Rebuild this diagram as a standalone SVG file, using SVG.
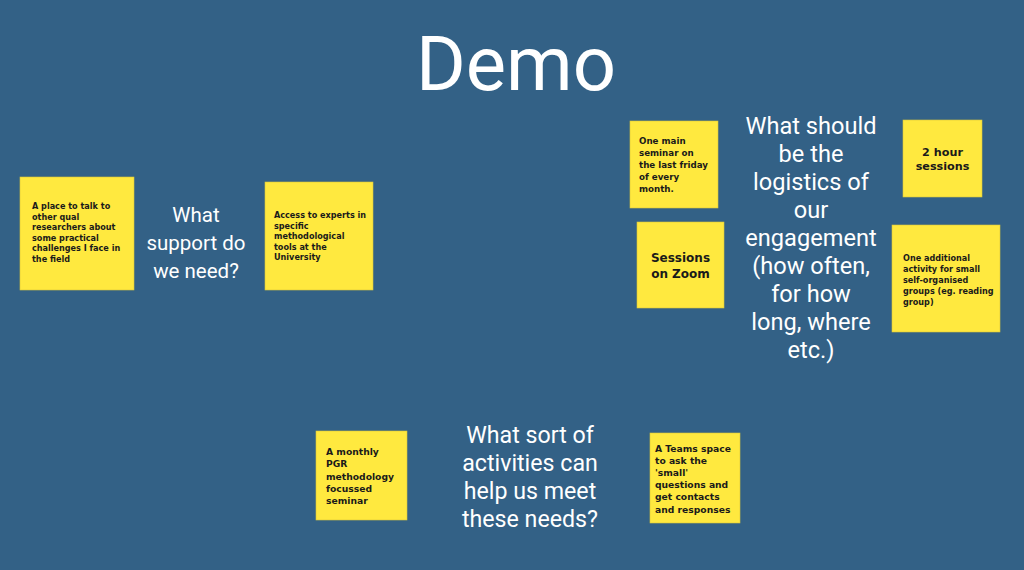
<svg xmlns="http://www.w3.org/2000/svg" width="1024" height="570" viewBox="0 0 1024 570">
<style>
.note{fill:#FFE93F;stroke:#d9c73a;stroke-width:0.6}
.nt{font-family:"DejaVu Sans",sans-serif;font-weight:bold;fill:#1a1a1a}
.s{font-size:8.1px}
.m{font-size:8.7px}
.m2{font-size:9.2px}
.l{font-size:11.5px}
.q{font-family:Roboto,"Liberation Sans",sans-serif;fill:#ffffff;text-anchor:middle}
</style>
<rect width="1024" height="570" fill="#336186"/>
<text x="516" y="90" font-family="Roboto,'Liberation Sans',sans-serif" font-size="76" fill="#ffffff" text-anchor="middle">Demo</text>
<g id="connectors"/>
<g id="q1"><text class="q" font-size="20.5"><tspan x="196" y="222">What</tspan><tspan x="196" y="250">support do</tspan><tspan x="196" y="278">we need?</tspan></text></g>
<g id="q2"><text class="q" font-size="23.6"><tspan x="811" y="134">What should</tspan><tspan x="811" y="162">be the</tspan><tspan x="811" y="190">logistics of</tspan><tspan x="811" y="218">our</tspan><tspan x="811" y="246">engagement</tspan><tspan x="811" y="274">(how often,</tspan><tspan x="811" y="302">for how</tspan><tspan x="811" y="330">long, where</tspan><tspan x="811" y="358">etc.)</tspan></text></g>
<g id="q3"><text class="q" font-size="23.2"><tspan x="530" y="443">What sort of</tspan><tspan x="530" y="471">activities can</tspan><tspan x="530" y="499">help us meet</tspan><tspan x="530" y="527">these needs?</tspan></text></g>
<g id="n1"><rect class="note" x="20" y="177" width="114" height="113"/><text class="nt s"><tspan x="32" y="209">A place to talk to</tspan><tspan x="32" y="219.5">other qual</tspan><tspan x="32" y="230">researchers about</tspan><tspan x="32" y="240.5">some practical</tspan><tspan x="32" y="251">challenges I face in</tspan><tspan x="32" y="261.5">the field</tspan></text></g>
<g id="n2"><rect class="note" x="265" y="182" width="108" height="108"/><text class="nt s"><tspan x="274" y="218">Access to experts in</tspan><tspan x="274" y="228.5">specific</tspan><tspan x="274" y="239">methodological</tspan><tspan x="274" y="249.5">tools at the</tspan><tspan x="274" y="260">University</tspan></text></g>
<g id="n3"><rect class="note" x="630" y="121" width="88" height="87"/><text class="nt m"><tspan x="639" y="144">One main</tspan><tspan x="639" y="156">seminar on</tspan><tspan x="639" y="168">the last friday</tspan><tspan x="639" y="180">of every</tspan><tspan x="639" y="192">month.</tspan></text></g>
<g id="n4"><rect class="note" x="637" y="222" width="87" height="86"/><text class="nt" font-size="12" text-anchor="middle"><tspan x="680.5" y="262">Sessions</tspan><tspan x="680.5" y="278">on Zoom</tspan></text></g>
<g id="n5"><rect class="note" x="903" y="120" width="79" height="77"/><text class="nt" font-size="11.2" text-anchor="middle"><tspan x="942.5" y="156">2 hour</tspan><tspan x="942.5" y="170">sessions</tspan></text></g>
<g id="n6"><rect class="note" x="892" y="225" width="108" height="107"/><text class="nt s"><tspan x="903" y="261">One additional</tspan><tspan x="903" y="272">activity for small</tspan><tspan x="903" y="283">self-organised</tspan><tspan x="903" y="294">groups (eg. reading</tspan><tspan x="903" y="305">group)</tspan></text></g>
<g id="n7"><rect class="note" x="316" y="431" width="91" height="89"/><text class="nt m2"><tspan x="326" y="455">A monthly</tspan><tspan x="326" y="467">PGR</tspan><tspan x="326" y="480">methodology</tspan><tspan x="326" y="492">focussed</tspan><tspan x="326" y="504">seminar</tspan></text></g>
<g id="n8"><rect class="note" x="650" y="433" width="90" height="90"/><text class="nt m2"><tspan x="655" y="452">A Teams space</tspan><tspan x="655" y="464">to ask the</tspan><tspan x="655" y="476">'small'</tspan><tspan x="655" y="488">questions and</tspan><tspan x="655" y="500">get contacts</tspan><tspan x="655" y="513">and responses</tspan></text></g>
</svg>
